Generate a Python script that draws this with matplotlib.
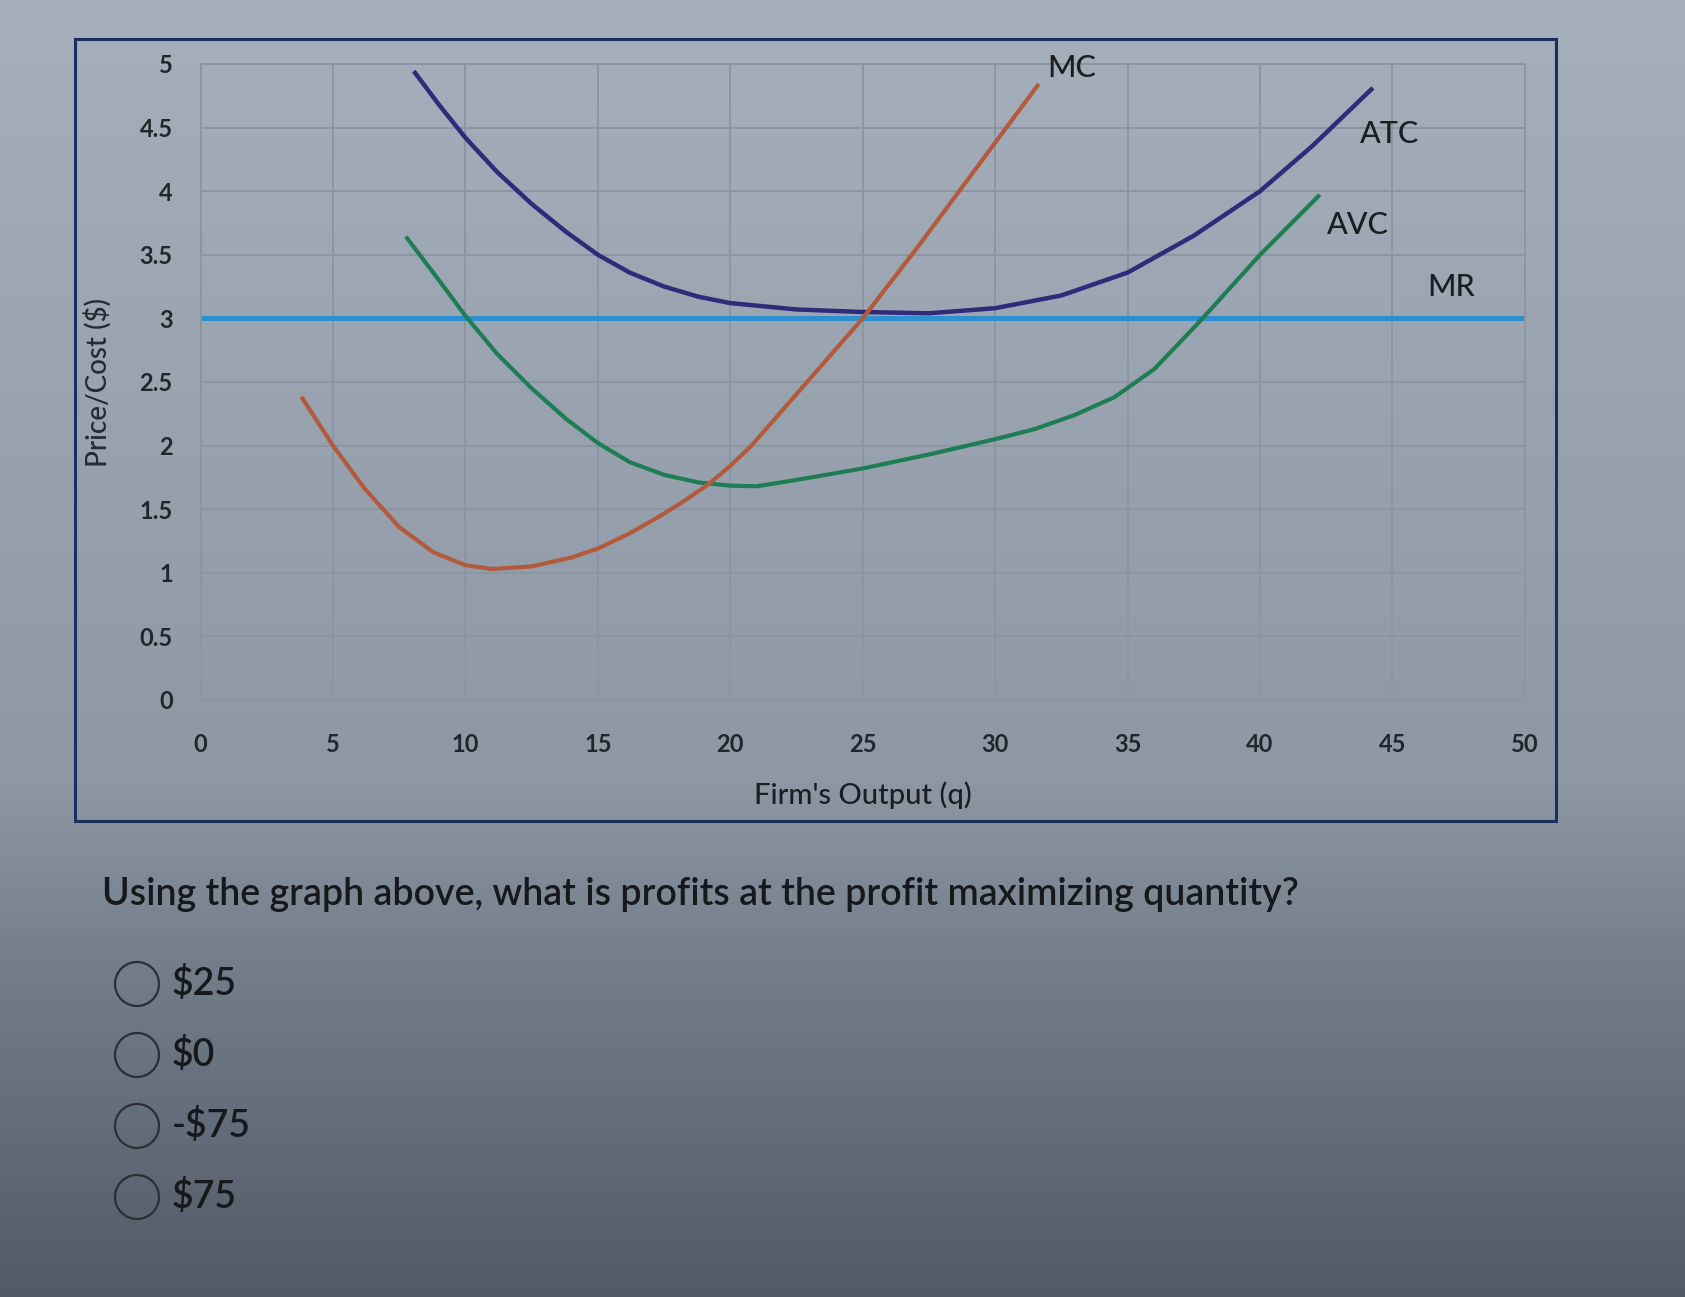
import numpy as np
import matplotlib.pyplot as plt
from matplotlib.patches import Rectangle, Ellipse
from matplotlib.colors import LinearSegmentedColormap

plt.rcParams['font.family'] = ['Lato', 'DejaVu Sans']

# cost curves (q, $)
mc_q = [3.85, 5.0, 6.2, 7.5, 8.8, 10.0, 11.0, 12.5, 14.0, 15.0, 16.2, 17.3, 18.3,
        19.2, 20.0, 20.8, 22.9, 25.0, 27.0, 29.0, 31.6]
mc_p = [2.37, 2.0, 1.66, 1.36, 1.16, 1.06, 1.03, 1.05, 1.12, 1.19, 1.31, 1.44, 1.57,
        1.7, 1.84, 2.0, 2.5, 3.0, 3.54, 4.1, 4.83]

atc_q = [8.1, 9.0, 10.0, 11.2, 12.5, 13.8, 15.0, 16.2, 17.5, 18.8, 20.0, 22.5, 25.0,
         27.5, 30.0, 32.5, 35.0, 37.5, 40.0, 42.0, 44.2]
atc_p = [4.93, 4.68, 4.42, 4.15, 3.9, 3.68, 3.5, 3.36, 3.25, 3.17, 3.12, 3.07, 3.05,
         3.04, 3.08, 3.18, 3.36, 3.65, 4.0, 4.36, 4.8]

avc_q = [7.8, 9.0, 10.0, 11.2, 12.5, 13.8, 15.0, 16.2, 17.5, 18.8, 20.0, 21.0, 22.5,
         25.0, 27.5, 30.0, 31.5, 33.0, 34.5, 36.0, 37.7, 40.0, 42.2]
avc_p = [3.63, 3.3, 3.02, 2.72, 2.45, 2.21, 2.02, 1.87, 1.77, 1.71, 1.685, 1.68, 1.73,
         1.82, 1.93, 2.05, 2.13, 2.24, 2.38, 2.6, 2.97, 3.5, 3.96]

mr_q = [0, 50]
mr_p = [3.0, 3.0]

x_ticks = list(range(0, 51, 5))
y_ticks = [0, 0.5, 1, 1.5, 2, 2.5, 3, 3.5, 4, 4.5, 5]
y_ticklabels = ['0', '0.5', '1', '1.5', '2', '2.5', '3', '3.5', '4', '4.5', '5']

question = "Using the graph above, what is profits at the profit maximizing quantity?"
options = ['$25', '$0', '-$75', '$75']

W, H = 1685, 1297
fig = plt.figure(figsize=(W / 100, H / 100), dpi=100)

# photo-like background (screen lit from the top)
bg = fig.add_axes([0, 0, 1, 1])
cmap = LinearSegmentedColormap.from_list(
    'screen', [(0, '#a6b0bc'), (0.6, '#8e98a5'), (0.75, '#737d8a'), (1, '#525a66')])
bg.imshow(np.linspace(0, 1, 256).reshape(-1, 1), aspect='auto', cmap=cmap,
          extent=[0, W, H, 0])
bg.set_xlim(0, W)
bg.set_ylim(H, 0)
bg.axis('off')

# chart frame
bg.add_patch(Rectangle((75, 39), 1481, 782, fill=False, ec='#1d2d5c', lw=2.2))

ax = fig.add_axes([0.119, 0.4603, 0.786, 0.4904])
ax.patch.set_alpha(0)
grid_c = '#8c96a2'

ax.plot(mr_q, mr_p, color='#2b8fd0', lw=3.6, solid_capstyle='butt')
ax.plot(avc_q, avc_p, color='#1f7d55', lw=3.0, solid_joinstyle='round')
ax.plot(atc_q, atc_p, color='#2f2a7a', lw=3.2, solid_joinstyle='round')
ax.plot(mc_q, mc_p, color='#b35a3c', lw=3.0, solid_joinstyle='round')

ax.set_xlim(0, 50)
ax.set_ylim(0, 5)
ax.set_xticks(x_ticks)
ax.set_yticks(y_ticks)
ax.set_yticklabels(y_ticklabels)
ax.grid(True, color=grid_c, lw=1.4)
ax.set_axisbelow(True)
for s in ax.spines.values():
    s.set_color(grid_c)
    s.set_linewidth(1.4)
ax.tick_params(axis='x', length=0, pad=24, labelsize=17, labelcolor='#22262c')
ax.tick_params(axis='y', length=0, pad=20, labelsize=17, labelcolor='#22262c')
for lab in ax.get_xticklabels() + ax.get_yticklabels():
    lab.set_fontweight('bold')

ax.set_xlabel("Firm's Output (q)", fontsize=21, fontweight='medium', color='#1a1d22',
              labelpad=18)
ax.set_ylabel('Price/Cost ($)', fontsize=20, fontweight='medium', color='#262a31',
              labelpad=20)

lab_kw = dict(fontsize=22, fontweight='medium', color='#1a1d22', ha='center',
              va='center', clip_on=False)
ax.text(32.9, 4.97, 'MC', **lab_kw)
ax.text(44.9, 4.45, 'ATC', **lab_kw)
ax.text(43.7, 3.73, 'AVC', **lab_kw)
ax.text(47.2, 3.25, 'MR', **lab_kw)

# quiz part under the chart
bg.text(102, 894, question, fontsize=27, fontweight='semibold', color='#15181d',
        va='center')
for i, opt in enumerate(options):
    yc = 984 + i * 71
    bg.add_patch(Ellipse((137, yc), 44, 44, fill=False, ec='#2a2e35', lw=1.6))
    bg.text(172, yc, opt, fontsize=27, fontweight='semibold', color='#15181d',
            va='center')

fig.savefig('out.png', dpi=100)
